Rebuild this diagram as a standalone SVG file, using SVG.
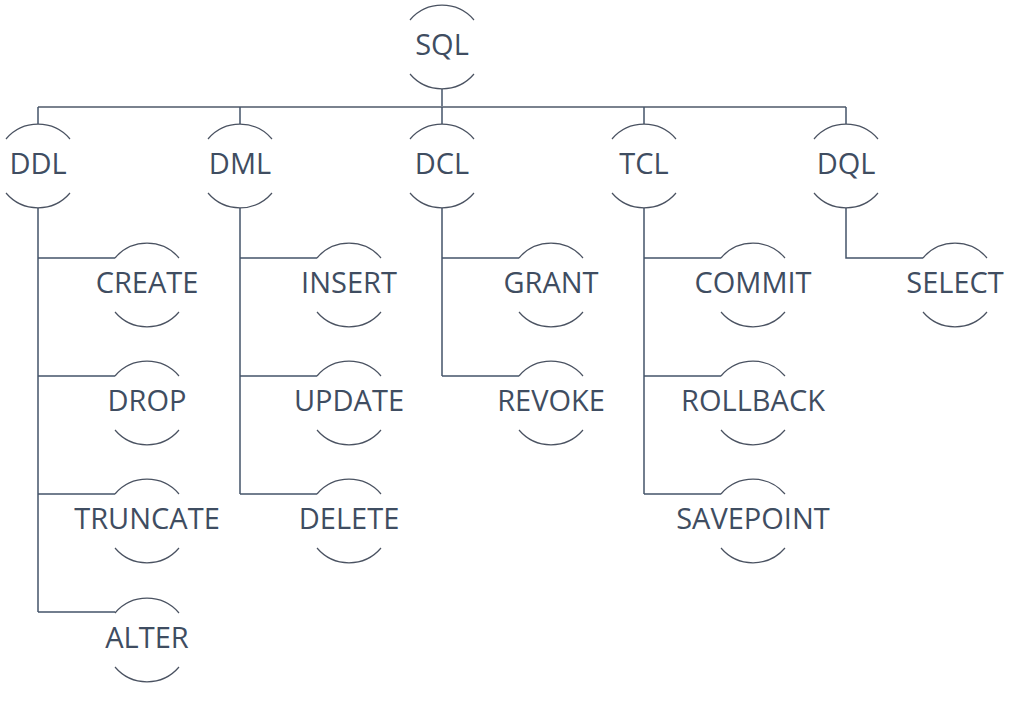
<svg xmlns="http://www.w3.org/2000/svg" width="1011" height="701" viewBox="0 0 1011 701">
<style>
.arc{fill:none;stroke:#4a5261;stroke-width:1.2}
.lbl{font-family:"Open Sans","Noto Sans",sans-serif;font-size:29px;fill:#3f4d61;text-anchor:middle}
.conn{fill:none;stroke:#44546a;stroke-width:1.5}
.bus{fill:none;stroke:#7a828e;stroke-width:2}
</style>
<defs>
<g id="nd">
<path class="arc" d="M-32,-27 A42,42 0 0 1 32,-27"/>
<path class="arc" d="M-32,27 A42,42 0 0 0 32,27"/>
</g>
</defs>
<g id="connectors">
<path class="conn" d="M442,89 V107"/>
<path class="bus" d="M38,107 H846"/>
<path class="conn" d="M38,107 V124 M240,107 V124 M442,107 V124 M644,107 V124 M846,107 V124"/>
<path class="conn" d="M38,208 V612 M38,258 H115 M38,376 H115 M38,494 H115 M38,612 H115"/>
<path class="conn" d="M240,208 V494 M240,258 H317 M240,376 H317 M240,494 H317"/>
<path class="conn" d="M442,208 V376 M442,258 H519 M442,376 H519"/>
<path class="conn" d="M644,208 V494 M644,258 H721 M644,376 H721 M644,494 H721"/>
<path class="conn" d="M846,208 V258 H923"/>
</g>
<g id="n-sql"><use href="#nd" x="442" y="47"/><text class="lbl" x="442" y="55">SQL</text></g>
<g id="n-ddl"><use href="#nd" x="38" y="166"/><text class="lbl" x="38" y="174">DDL</text></g>
<g id="n-dml"><use href="#nd" x="240" y="166"/><text class="lbl" x="240" y="174">DML</text></g>
<g id="n-dcl"><use href="#nd" x="442" y="166"/><text class="lbl" x="442" y="174">DCL</text></g>
<g id="n-tcl"><use href="#nd" x="644" y="166"/><text class="lbl" x="644" y="174">TCL</text></g>
<g id="n-dql"><use href="#nd" x="846" y="166"/><text class="lbl" x="846" y="174">DQL</text></g>
<g id="n-create"><use href="#nd" x="147" y="285"/><text class="lbl" x="147" y="293">CREATE</text></g>
<g id="n-drop"><use href="#nd" x="147" y="403"/><text class="lbl" x="147" y="411">DROP</text></g>
<g id="n-truncate"><use href="#nd" x="147" y="521"/><text class="lbl" x="147" y="529">TRUNCATE</text></g>
<g id="n-alter"><use href="#nd" x="147" y="640"/><text class="lbl" x="147" y="648">ALTER</text></g>
<g id="n-insert"><use href="#nd" x="349" y="285"/><text class="lbl" x="349" y="293">INSERT</text></g>
<g id="n-update"><use href="#nd" x="349" y="403"/><text class="lbl" x="349" y="411">UPDATE</text></g>
<g id="n-delete"><use href="#nd" x="349" y="521"/><text class="lbl" x="349" y="529">DELETE</text></g>
<g id="n-grant"><use href="#nd" x="551" y="285"/><text class="lbl" x="551" y="293">GRANT</text></g>
<g id="n-revoke"><use href="#nd" x="551" y="403"/><text class="lbl" x="551" y="411">REVOKE</text></g>
<g id="n-commit"><use href="#nd" x="753" y="285"/><text class="lbl" x="753" y="293">COMMIT</text></g>
<g id="n-rollback"><use href="#nd" x="753" y="403"/><text class="lbl" x="753" y="411">ROLLBACK</text></g>
<g id="n-savepoint"><use href="#nd" x="753" y="521"/><text class="lbl" x="753" y="529">SAVEPOINT</text></g>
<g id="n-select"><use href="#nd" x="955" y="285"/><text class="lbl" x="955" y="293">SELECT</text></g>
</svg>
